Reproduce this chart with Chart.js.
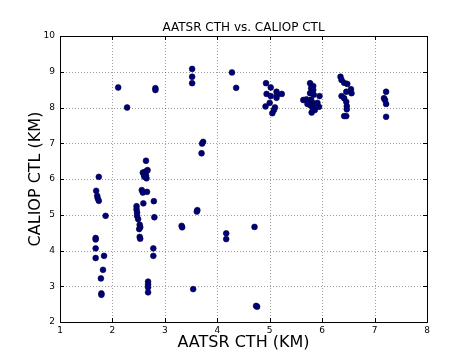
<!DOCTYPE html>
<html>
<head>
<meta charset="utf-8">
<script src="https://cdn.jsdelivr.net/npm/chart.js@4/dist/chart.umd.min.js"></script>
<style>
html,body{margin:0;padding:0;background:#fff;}
#wrap{width:474px;height:357px;}
</style>
</head>
<body>
<div id="wrap"><canvas id="c" width="474" height="357"></canvas></div>
<script>
const chartTitle = "AATSR CTH vs. CALIOP CTL";
const xTitle = "AATSR CTH (KM)";
const yTitle = "CALIOP CTL (KM)";
const xTicks = [1,2,3,4,5,6,7,8];
const yTicks = [2,3,4,5,6,7,8,9,10];

// AATSR cloud top height (x) per point
const aatsrCTH = [
  1.74,1.69,1.71,1.72,1.74,1.87,1.68,1.68,1.68,1.68,1.84,1.82,1.78,1.79,1.79,
  2.64,2.67,2.58,2.60,2.62,2.64,2.66,2.65,2.61,2.56,2.58,2.66,2.79,2.59,2.46,2.46,2.47,2.47,2.49,2.80,2.52,2.53,2.51,2.52,2.53,2.78,2.78,2.68,2.68,2.68,2.68,
  2.11,2.28,2.82,2.82,3.52,3.52,3.52,4.28,4.36,
  3.73,3.71,3.70,3.62,3.61,3.32,3.33,4.17,4.17,4.71,3.54,4.74,4.76,
  4.93,5.02,4.94,5.02,5.13,5.14,5.13,5.23,5.00,4.92,5.10,5.08,5.05,
  5.77,5.83,5.79,5.83,5.77,5.84,5.95,5.64,5.70,5.73,5.79,5.83,5.77,5.91,5.94,5.82,5.86,5.80,5.72,5.88,
  6.35,6.37,6.42,6.48,6.55,6.56,6.46,6.37,6.42,6.46,6.47,6.47,6.42,6.46,
  7.22,7.18,7.20,7.22,7.22
];
// CALIOP cloud top level (y) per point
const caliopCTL = [
  6.06,5.67,5.53,5.46,5.39,4.97,4.35,4.31,4.06,3.79,3.85,3.46,3.22,2.80,2.76,
  6.51,6.25,6.18,6.12,6.20,6.10,6.23,6.02,6.06,5.69,5.62,5.64,5.38,5.32,5.24,5.15,5.06,4.97,4.88,4.93,4.72,4.65,4.60,4.38,4.33,4.06,3.85,3.13,3.05,2.97,2.83,
  8.56,8.00,8.54,8.49,9.08,8.86,8.68,8.98,8.55,
  7.04,6.99,6.72,5.13,5.09,4.69,4.65,4.48,4.32,4.66,2.92,2.45,2.43,
  8.68,8.56,8.38,8.32,8.44,8.36,8.27,8.38,8.13,8.03,8.00,7.93,7.84,
  8.68,8.60,8.54,8.49,8.40,8.36,8.32,8.21,8.23,8.16,8.22,8.12,8.07,8.13,8.02,7.98,7.93,7.86,8.10,8.05,
  8.86,8.77,8.69,8.66,8.51,8.40,8.44,8.32,8.26,8.16,8.04,7.95,7.76,7.76,
  8.44,8.26,8.21,8.10,7.74
];

const points = aatsrCTH.map((x,i)=>({x:x, y:caliopCTL[i]}));
const FONT = "'DejaVu Sans', sans-serif";

const framePlugin = {
  id:'frame',
  beforeDatasetsDraw(chart){
    const {ctx, chartArea:a, scales} = chart;
    ctx.save();
    ctx.strokeStyle = 'rgba(0,0,0,0.38)';
    ctx.lineWidth = 1;
    ctx.setLineDash([1,2]);
    ctx.beginPath();
    xTicks.forEach(v=>{
      const px = Math.round(scales.x.getPixelForValue(v))+0.5;
      ctx.moveTo(px, a.top); ctx.lineTo(px, a.bottom);
    });
    yTicks.forEach(v=>{
      const py = Math.round(scales.y.getPixelForValue(v))+0.5;
      ctx.moveTo(a.left, py); ctx.lineTo(a.right, py);
    });
    ctx.stroke();
    ctx.restore();
  },
  afterDatasetsDraw(chart){
    const {ctx, chartArea:a, scales} = chart;
    ctx.save();
    ctx.strokeStyle = '#000';
    ctx.lineWidth = 1;
    ctx.beginPath();
    xTicks.forEach(v=>{
      const px = Math.round(scales.x.getPixelForValue(v))+0.5;
      ctx.moveTo(px, a.bottom); ctx.lineTo(px, a.bottom-4);
      ctx.moveTo(px, a.top); ctx.lineTo(px, a.top+4);
    });
    yTicks.forEach(v=>{
      const py = Math.round(scales.y.getPixelForValue(v))+0.5;
      ctx.moveTo(a.left, py); ctx.lineTo(a.left+4, py);
      ctx.moveTo(a.right, py); ctx.lineTo(a.right-4, py);
    });
    ctx.stroke();
    ctx.strokeRect(Math.round(a.left)+0.5, Math.round(a.top)+0.5, Math.round(a.right-a.left), Math.round(a.bottom-a.top));
    // title centred over the plot area
    ctx.fillStyle = '#000';
    ctx.font = "12px " + FONT;
    ctx.textAlign = 'center';
    ctx.textBaseline = 'middle';
    ctx.fillText(chartTitle, (a.left+a.right)/2, a.top - 8.5);
    ctx.restore();
  }
};

new Chart(document.getElementById('c'), {
  type:'scatter',
  data:{datasets:[{
    data: points,
    backgroundColor:'#00007f',
    borderColor:'#000033',
    borderWidth:0.6,
    pointRadius:2.9,
    pointHoverRadius:2.9
  }]},
  options:{
    responsive:false,
    animation:false,
    events:[],
    layout:{padding:{left:0,right:47,top:36,bottom:0}},
    plugins:{
      legend:{display:false},
      tooltip:{enabled:false},
      title:{display:false}
    },
    scales:{
      x:{type:'linear',min:1,max:8,
        afterBuildTicks(s){ s.ticks = xTicks.map(v=>({value:v})); },
        afterFit(s){ s.height = 35; },
        grid:{display:false,drawTicks:false},
        border:{display:false},
        ticks:{color:'#000',font:{family:FONT,size:9},padding:3,maxRotation:0},
        title:{display:true,text:xTitle,color:'#000',font:{family:FONT,size:16,lineHeight:1.2},padding:{top:0,bottom:5}}
      },
      y:{type:'linear',min:2,max:10,
        afterBuildTicks(s){ s.ticks = yTicks.map(v=>({value:v})); },
        afterFit(s){ s.width = 60; },
        grid:{display:false,drawTicks:false},
        border:{display:false},
        ticks:{color:'#000',font:{family:FONT,size:9},padding:5},
        title:{display:true,text:yTitle,color:'#000',font:{family:FONT,size:16,lineHeight:1.2},padding:{top:26,bottom:0}}
      }
    }
  },
  plugins:[framePlugin]
});
</script>
</body>
</html>
